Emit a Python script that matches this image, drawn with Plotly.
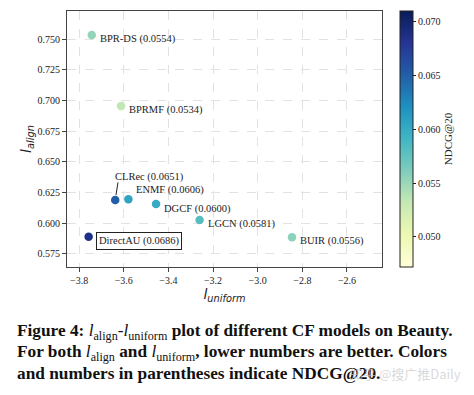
import plotly.graph_objects as go
import plotly.colors as pc

models = ["BPR-DS", "BPRMF", "CLRec", "ENMF", "DGCF", "LGCN", "BUIR", "DirectAU"]
l_uniform = [-3.743, -3.612, -3.638, -3.579, -3.455, -3.260, -2.846, -3.757]
l_align = [0.7533, 0.6955, 0.6190, 0.6195, 0.6157, 0.6027, 0.5886, 0.5891]
ndcg = [0.0554, 0.0534, 0.0651, 0.0606, 0.0600, 0.0581, 0.0556, 0.0686]

x_ticks = [-3.8, -3.6, -3.4, -3.2, -3.0, -2.8, -2.6]
y_ticks = [0.575, 0.600, 0.625, 0.650, 0.675, 0.700, 0.725, 0.750]
cb_ticks = [0.050, 0.055, 0.060, 0.065, 0.070]

SERIF = "Liberation Serif"
scale = pc.sequential.YlGnBu
cs = [[i / (len(scale) - 1), c] for i, c in enumerate(scale)]

fig = go.Figure()
fig.add_trace(go.Scatter(
    x=l_uniform, y=l_align, mode="markers",
    marker=dict(size=8.5, color=ndcg, colorscale=cs, cmin=0.0472, cmax=0.0710,
                line=dict(width=0),
                colorbar=dict(
                    x=1.057, xanchor="left", xpad=0, y=0.5, yanchor="middle",
                    len=1.0, lenmode="fraction", thickness=13, ypad=0,
                    outlinewidth=1, outlinecolor="#222",
                    tickvals=cb_ticks, ticktext=[f"{v:.3f}" for v in cb_ticks],
                    ticks="outside", ticklen=3, tickcolor="#222",
                    tickfont=dict(family=SERIF, size=10, color="#222"),
                    title=dict(text="NDCG@20", side="right",
                               font=dict(family=SERIF, size=11, color="#222")),
                )),
    hoverinfo="skip", showlegend=False,
))

anns = []
offsets = {
    "BPR-DS": (6, -4), "BPRMF": (6, -4), "DGCF": (6, -5), "LGCN": (6, -4),
    "BUIR": (6, -4), "ENMF": (6, 9), "CLRec": (-2, 23),
}
LBL = dict(family=SERIF, size=10.5, color="#222")
for m, xv, yv, nv in zip(models, l_uniform, l_align, ndcg):
    label = f"{m} ({nv:.4f})"
    if m == "DirectAU":
        anns.append(dict(x=xv, y=yv, xref="x", yref="y", text=label, showarrow=False,
                         xanchor="left", yanchor="middle", xshift=7, yshift=-4,
                         bordercolor="#222", borderwidth=1, borderpad=2, bgcolor="white",
                         font=LBL))
        continue
    dx, dy = offsets[m]
    anns.append(dict(x=xv, y=yv, xref="x", yref="y", text=label, showarrow=False,
                     xanchor="left", yanchor="middle", xshift=dx, yshift=dy,
                     font=LBL))
    if m == "CLRec":
        anns.append(dict(x=xv, y=yv, xref="x", yref="y", text="", showarrow=True,
                         arrowhead=0, arrowwidth=1, arrowcolor="#222",
                         ax=3, ay=-19, standoff=5))

# caption
cap_font = dict(family=SERIF, size=17.3, color="#111")
lines = [
    "<b>Figure 4:</b> <i>l</i><sub>align</sub>-<i>l</i><sub>uniform</sub> <b>plot of different CF models on Beauty.</b>",
    "<b>For both</b> <i>l</i><sub>align</sub> <b>and</b> <i>l</i><sub>uniform</sub><b>, lower numbers are better. Colors</b>",
    "<b>and numbers in parentheses indicate NDCG@20.</b>",
]
ys = [332, 353, 373]
for t, py in zip(lines, ys):
    anns.append(dict(x=(16 - 67) / 315, y=(267 - py) / 256, xref="paper", yref="paper",
                     text=t, showarrow=False, xanchor="left", yanchor="middle",
                     borderpad=0, font=cap_font))
anns.append(dict(x=(463 - 67) / 315, y=(267 - 373) / 256, xref="paper", yref="paper",
                 text="知乎 @搜广推Daily", showarrow=False, xanchor="right", yanchor="middle",
                 font=dict(family="Noto Sans CJK SC", size=13, color="rgba(200,200,200,0.7)")))

axis_common = dict(showline=True, linecolor="#444", linewidth=1, mirror=True,
                   ticks="outside", ticklen=4, tickcolor="#444",
                   showgrid=True, gridcolor="#e2e2e2", griddash="dash", gridwidth=1,
                   zeroline=False, automargin=False,
                   tickfont=dict(family=SERIF, size=10, color="#222"))

fig.update_layout(
    width=474, height=395,
    margin=dict(l=67, r=92, t=11, b=128, autoexpand=False),
    plot_bgcolor="white", paper_bgcolor="white",
    xaxis=dict(range=[-3.854, -2.443], tickvals=x_ticks,
               ticktext=[f"\u2212{abs(v):.1f}" for v in x_ticks],
               title=dict(text="<i>l</i><sub><i>uniform</i></sub>", standoff=2,
                          font=dict(family="DejaVu Sans", size=14, color="#222")),
               **axis_common),
    yaxis=dict(range=[0.5644, 0.7728], tickvals=y_ticks,
               ticktext=[f"{v:.3f}" for v in y_ticks],
               title=dict(text="<i>l</i><sub><i>align</i></sub>", standoff=2,
                          font=dict(family="DejaVu Sans", size=14, color="#222")),
               **axis_common),
    annotations=anns,
)

fig.write_html("out.html", config={"displayModeBar": False},
               post_script="document.body.style.margin='0';document.body.style.overflow='hidden';")
